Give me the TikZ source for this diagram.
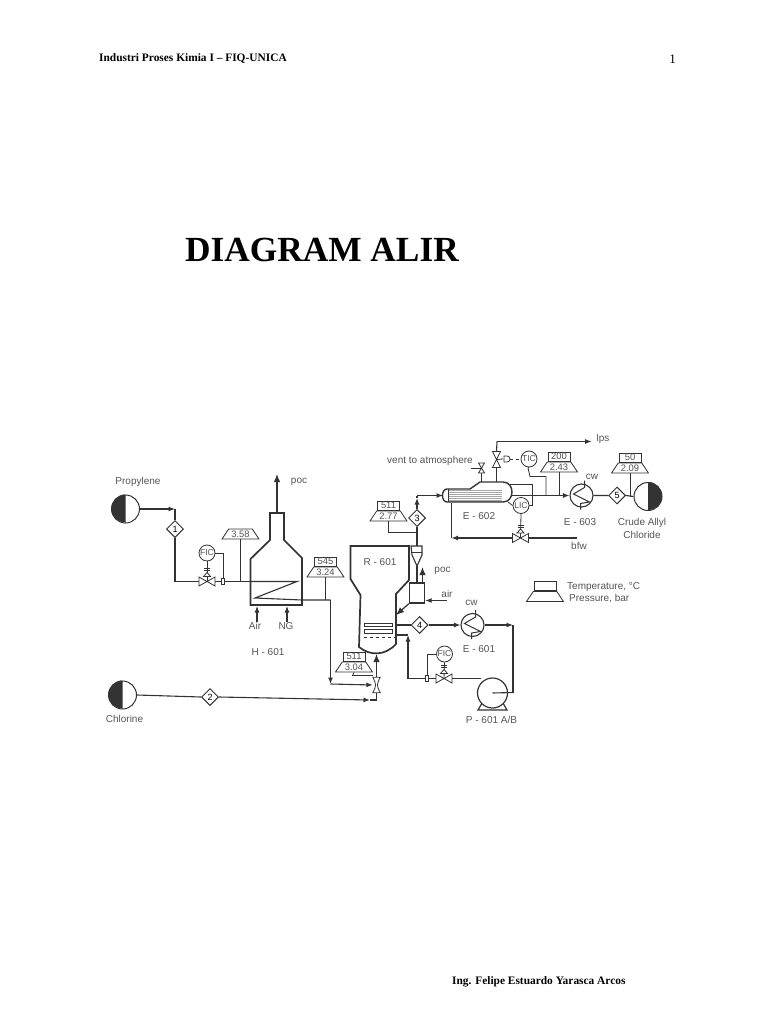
\documentclass[tikz,border=0pt]{standalone}
\usepackage{fontspec}
\setmainfont{Liberation Serif}
\setsansfont{Liberation Sans}
\usetikzlibrary{shapes.geometric,calc,positioning,arrows.meta}
\definecolor{ink}{gray}{0.2}
\definecolor{txt}{gray}{0.33}
\tikzset{
    flow/.style={draw=ink,line width=1.1pt,>={Latex[length=6.5pt,width=5pt]}},
    bigflow/.style={draw=ink,line width=1.2pt,>={Latex[length=8pt,width=6.5pt]}},
    ctl/.style={draw=ink,line width=.8pt},
    vessel/.style={draw=ink,line width=1.7pt},
    lbl/.style={font=\sffamily\fontsize{10}{11}\selectfont,text=txt,inner sep=0pt},
    inst/.style={circle,draw=ink,line width=.8pt,fill=white,minimum size=16pt,inner sep=0pt,font=\sffamily\fontsize{8.6}{9}\selectfont,text=txt},
    numd/.style={diamond,draw=ink,line width=1pt,fill=white,minimum size=17pt,inner sep=0pt,font=\sffamily\fontsize{9}{9}\selectfont},
    src/.style={circle,draw=ink,line width=1pt,fill=white,minimum size=28pt,inner sep=0pt},
    tagbase/.style={trapezium,trapezium stretches=true,trapezium angle=52,draw=ink,line width=.8pt,fill=white,minimum width=37pt,minimum height=10pt,inner sep=0pt,font=\sffamily\fontsize{9.4}{9}\selectfont,text=txt},
    tagbox/.style={rectangle,draw=ink,line width=.8pt,fill=white,minimum width=22pt,minimum height=9pt,inner sep=0pt,font=\sffamily\fontsize{9.4}{9}\selectfont,text=txt},
    hdr/.style={font=\bfseries\fontsize{11.4}{13}\selectfont,inner sep=0pt},
    valvebox/.style={minimum width=#1,inner sep=0pt,outer sep=0pt},
    hxc/.style={circle,draw=ink,line width=1.1pt,fill=white,minimum size=23pt,inner sep=0pt},
}
% valves, name and position
\newcommand{\hvalve}[2]{
    \node[valvebox=16pt,minimum height=9pt] (#1) at (#2) {};
    \draw[ctl,fill=white] (#1.north west)--(#1.south east)--(#1.north east)--(#1.south west)--cycle;
}
\newcommand{\vvalve}[4]{
    \node[valvebox=#3pt,minimum height=#4pt] (#1) at (#2) {};
    \draw[ctl,fill=white] (#1.north west)--(#1.north east)--(#1.south west)--(#1.south east)--cycle;
}
% controller down to its valve
\newcommand{\actuator}[2]{
    \draw[ctl] (#1.south)--(#2.center);
    \draw[ctl,fill=white] ($(#2.center)+(-3.5,-5)$)--++(7,0)--++(-3.5,-4)--cycle;
    \draw[ctl] ($(#2.center)+(-3,-13)$)--++(6,0);
    \draw[ctl] ($(#2.center)+(-3,-11)$)--++(6,0);
}
% exchanger
\newcommand{\exch}[2]{
    \node[hxc] (#1) at (#2) {};
    \draw[ctl,line width=1pt] ($(#1)+(3,-15)$)--++(0,7)--($(#1)+(-8,-1.5)$)--($(#1)+(8,6.5)$)--($(#1)+(-1,8)$)--++(0,6);
}
\begin{document}
\begin{tikzpicture}[x=1pt,y=-1pt]
    \useasboundingbox (0,0) rectangle (768,1024);
    % page text
    \node[hdr,anchor=west] (head) at (99,58) {Industri Proses Kimia I -- FIQ-UNICA};
    \node[font=\fontsize{13}{14}\selectfont,inner sep=0pt] (pageno) at (672.5,59) {1};
    \node[font=\bfseries\fontsize{35.3}{40}\selectfont,inner sep=0pt,anchor=west] (title) at (185,250) {DIAGRAM ALIR};
    \node[hdr,anchor=west] (foot) at (452,982) {Ing. Felipe Estuardo Yarasca Arcos};

    % feeds
    \node[src] (prop) at (125.5,509) {};
    \fill[ink] (prop.north) arc [start angle=-90,end angle=-270,radius=14];
    \node[lbl] (lprop) at (138,482) {Propylene};
    \node[src] (chlor) at (122.5,695) {};
    \fill[ink] (chlor.north) arc [start angle=-90,end angle=-270,radius=14];
    \node[lbl] (lchlor) at (124.5,719) {Chlorine};
    \node[numd] (d1) at (175,529) {1};
    \node[numd] (d2) at (210,697) {2};
    \coordinate (c1) at (175,509);
    \coordinate (c2) at (175,581.5);
    \draw[flow,->] (prop.east)--(c1);
    \draw[flow] (c1)--(d1.north) (d1.south)--(c2);
    \draw[flow] (chlor.east)--(d2.west);

    % H-601
    \coordinate (hin) at (250.5,581.5);
    \coordinate (hzz) at (297,581.5);
    \coordinate (hout) at (302,600);
    \coordinate (ho1) at (330.5,600);
    \coordinate (ho2) at (330.5,684);
    \draw[vessel] (250.5,605)--(302,605)--(302,558)--(284,540)--(284,513)--(270,513)--(270,540)--(250.5,559)--cycle;
    \draw[flow] (hin)--(hzz)--(255,598)--(hout)--(ho1);
    \draw[flow,->] (ho1)--(ho2);
    \coordinate (stack) at (277,513);
    \node[lbl] (lpoc1) at (299,482) {poc};
    \coordinate (poc1) at (277,474);
    \draw[bigflow,->] (stack)--(poc1);
    \node[lbl] (lair1) at (255,626) {Air};
    \node[lbl] (lng) at (286,626) {NG};
    \draw[flow,->] (lair1.north -| 257,0)--(257,606);
    \draw[flow,->] (lng.north -| 287,0)--(287,606);
    \node[lbl] (lh) at (268,652) {H - 601};
    \hvalve{v1}{207,581.5}
    \node[inst] (fic1) at (207,553) {FIC};
    \actuator{fic1}{v1}
    \node[draw=ink,line width=.8pt,minimum width=3pt,minimum height=6pt,inner sep=0pt] (fe1) at (223,581.5) {};
    \draw[flow] (c2)--(v1.west) (v1.east)--(fe1.west) (fe1.east)--(hin);
    \draw[ctl] (fic1.east)--(223,553)--(fe1.north);
    \node[tagbase] (t358) at (240.5,534) {3.58};
    \draw[ctl,line width=1pt] (t358.south)--(t358.south |- hin);
    \node[tagbase] (t324) at (325.5,572) {3.24};
    \node[tagbox,above=0pt of t324] (t545) {545};
    \draw[ctl,line width=1pt] (t324.south)--(t324.south |- hout);

    % R-601
    \draw[vessel] (350.5,546)--(409,546)--(409,580)--(396,594)--(396,644) .. controls (385,656) and (370,656) .. (359,647)--(360.5,595)--(350.5,579)--cycle;
    \node[lbl] (lr) at (380,562) {R - 601};
    \draw[ctl,fill=white] (364,623) rectangle (392.5,626.5);
    \draw[ctl,fill=white] (364,629.5) rectangle (392.5,633.5);
    \draw[ink,line width=1pt,dashed] (364,637)--(395,637);
    % cyclone and burner box
    \draw[flow,fill=white] (411,546)--(422,546)--(422,555)--(417,566)--(412,555)--cycle;
    \draw[ctl] (411,552)--(422,552);
    \node[draw=ink,line width=1.3pt,minimum width=15pt,minimum height=20pt,inner sep=0pt] (burn) at (417,593) {};
    \coordinate (cybot) at (417,566);
    \draw[flow] (cybot)--(cybot |- burn.north);
    \coordinate (poc2) at (422.5,567);
    \draw[bigflow,->] (poc2 |- burn.north)--(poc2);
    \node[lbl] (lpoc2) at (442.5,571) {poc};
    \node[lbl] (lair2) at (447,594) {air};
    \coordinate (air2) at (447,600.5);
    \draw[flow,->] (air2)--(burn.east |- air2);
    \coordinate (rbed) at (396,615);
    \draw[bigflow,->] (burn.south west)--(rbed);

    % venturi
    \node[minimum width=7pt,minimum height=15pt,inner sep=0pt] (vent) at (376.5,685) {};
    \draw[ctl,fill=white] (vent.north west)--(vent.north east) .. controls (vent.center) and (vent.center) .. (vent.south east)--(vent.south west) .. controls (vent.center) and (vent.center) .. cycle;
    \draw[flow,->] (ho2)--(vent.west);
    \coordinate (c3) at (376.5,700);
    \draw[flow,->] (d2.east)--(c3 -| 370,0);
    \draw[flow] (370,700)--(c3)--(vent.south);
    \coordinate (rbot) at (376.5,654);
    \draw[bigflow,->] (vent.north)--(rbot);
    \node[tagbase] (t304) at (354,667) {3.04};
    \node[tagbox,above=0pt of t304] (t511b) {511};
    \draw[ctl] (t304.south)--(352.5,675.5)--(vent.west |- 0,675.5);

    % top of R-601 to E-602
    \node[numd] (d3) at (417,518) {3};
    \coordinate (c4) at (417,495.5);
    \coordinate (c5) at (417,532);
    \coordinate (cytop) at (417,546);
    \coordinate (e602in) at (443,495.5);
    \draw[flow] (cytop)--(d3.south);
    \draw[flow,->] (d3.north)--(417,498);
    \draw[flow] (417,498)--(c4);
    \draw[flow,->] (c4)--(e602in);
    \node[tagbase] (t277) at (388.5,516) {2.77};
    \node[tagbox,above=0pt of t277] (t511a) {511};
    \draw[ctl,line width=1pt] (t277.south)--(t277.south |- c5)--(c5);

    % E-602
    \fill[gray!70] (449,490) rectangle (502,501.5);
    \foreach \yy in {491.5,493.5,...,500.5}{
        \draw[white,line width=.35pt] (449,\yy)--(502,\yy);
    }
    \draw[vessel,line width=1.4pt] (447,489)--(470,489)--(480,482)--(503,482) .. controls (515,482) and (515,502) .. (503,502)--(447,502) .. controls (441,502) and (441,489) .. (447,489)--cycle;
    \draw[ctl] (448.5,489)--(448.5,502);
    \node[lbl] (le602) at (479,516.5) {E - 602};
    \node[lbl] (lvent) at (430,461) {vent to atmosphere};
    \vvalve{v3}{481.5,468}{6}{10}
    \draw[flow] (v3.south)--(481.5,482);
    \draw[ctl] (471,468)--(v3.center);
    \vvalve{v4}{496.5,459.5}{8}{16}
    \coordinate (c6) at (497,441.5);
    \coordinate (lps) at (591.5,441.5);
    \node[lbl] (llps) at (603,439) {lps};
    \draw[flow] (v4.south)--(496.5,482);
    \draw[flow] (v4.north)--(c6);
    \draw[flow,->] (c6)--(lps);
    \node[inst] (tic) at (529,459) {TIC};
    \draw[ctl] (v4.center)--(503,459);
    \draw[ctl,fill=white] (504,456) -- (507,456) arc [start angle=-90,end angle=90,radius=3] -- (504,462) -- cycle;
    \draw[ctl,dashed] (510,459)--(tic.west);

    % E-603 and product
    \exch{e603}{581.5,495.5}
    \node[lbl] (lcw1) at (592,477) {cw};
    \node[lbl] (le603) at (580,522) {E - 603};
    \coordinate (e602out) at (511,495.5);
    \draw[flow,->] (e602out)--(e603.west);
    \node[numd] (d5) at (617,495.5) {5};
    \node[src] (crude) at (648,496.5) {};
    \fill[ink] (crude.north) arc [start angle=-90,end angle=90,radius=14];
    \draw[flow] (e603.east)--(d5.west) (d5.east)--(crude.west);
    \node[lbl,align=center] (lcrude) at (642,528.5) {Crude Allyl\\[2.5pt]Chloride};
    \node[tagbase] (t243) at (559,467) {2.43};
    \node[tagbox,above=0pt of t243] (t200) {200};
    \draw[ctl,line width=1pt] (t243.south)--(t243.south |- e603);
    \node[tagbase] (t209) at (630,468) {2.09};
    \node[tagbox,above=0pt of t209] (t50) {50};
    \draw[ctl,line width=1pt] (t209.south)--(t209.south |- crude);
    \draw[ctl] (tic.south)--(528,468)--(530,476.5)--(546,476.5)--(546,495.5);

    % LIC and bfw
    \node[inst] (lic) at (521,505.5) {LIC};
    \hvalve{v5}{520.5,538}
    \actuator{lic}{v5}
    \draw[ctl] (508,484)--(532.5,484)--(532.5,505.5)--(lic.east);
    \draw[ctl] (508,502)--(lic.west);
    \coordinate (bfw) at (576.5,538);
    \coordinate (c7) at (451.5,538);
    \coordinate (c8) at (451.5,503);
    \node[lbl] (lbfw) at (579,546) {bfw};
    \draw[flow] (bfw)--(v5.east);
    \draw[flow,->] (v5.west)--(c7);
    \draw[flow] (c7)--(c8);

    % E-601 loop
    \exch{e601}{472.5,625}
    \node[lbl] (lcw2) at (471.5,603) {cw};
    \node[lbl] (le601) at (479,649) {E - 601};
    \node[numd] (d4) at (419.5,625) {4};
    \coordinate (rside) at (396,625);
    \coordinate (c9) at (513,625);
    \coordinate (c10) at (513,692.5);
    \draw[flow] (rside)--(d4.west);
    \draw[flow,->] (d4.east)--(e601.west);
    \draw[flow,->] (e601.east)--(c9);
    \draw[flow] (c9)--(c10);
    \node[circle,draw=ink,line width=1.2pt,fill=white,minimum size=30pt,inner sep=0pt] (pump) at (492.5,693) {};
    \draw[ctl,line width=1.2pt] (pump.south west)--(478,710)--(507,710)--(pump.south east);
    \draw[flow] (c10)--(pump.center);
    \node[lbl] (lp) at (491.5,720) {P - 601 A/B};
    \hvalve{v2}{444,678.5}
    \node[inst] (fic2) at (444.5,654) {FIC};
    \actuator{fic2}{v2}
    \node[draw=ink,line width=.8pt,minimum width=3pt,minimum height=6pt,inner sep=0pt] (fe2) at (427,678.5) {};
    \coordinate (c11) at (408,678.5);
    \coordinate (c12) at (408,635);
    \coordinate (rret) at (396,635);
    \draw[flow] (pump.north west |- v2)--(v2.east) (v2.west)--(fe2.east) (fe2.west)--(c11);
    \draw[flow,->] (c11)--(c12);
    \draw[flow] (c12)--(rret);
    \draw[ctl] (fic2.west)--(427,654)--(fe2.north);

    % legend
    \node[tagbase] (tleg) at (545,596.5) {\phantom{3.04}};
    \node[tagbox,above=0pt of tleg] (tlegb) {};
    \node[lbl,anchor=west] (ltemp) at (567,587) {Temperature, °C};
    \node[lbl,anchor=west] (lpres) at (569,598.5) {Pressure, bar};
\end{tikzpicture}
\end{document}
